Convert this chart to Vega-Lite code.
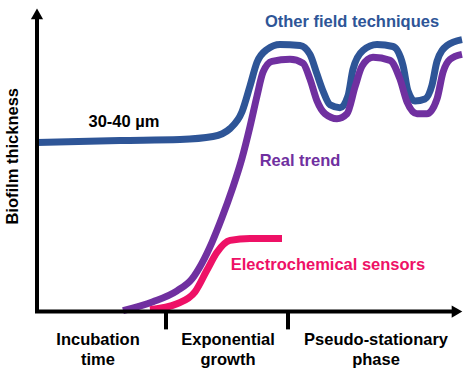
{
  "$schema": "https://vega.github.io/schema/vega-lite/v6.json",
  "width": 474,
  "height": 369,
  "autosize": {"type": "fit", "contains": "padding"},
  "padding": 0,
  "background": "white",
  "config": {"view": {"stroke": null}},
  "datasets": {
    "curves": [
      {"series": "Other field techniques", "t": 37, "v": 225},
      {"series": "Other field techniques", "t": 120, "v": 227},
      {"series": "Other field techniques", "t": 180, "v": 228},
      {"series": "Other field techniques", "t": 213, "v": 231},
      {"series": "Other field techniques", "t": 230, "v": 239},
      {"series": "Other field techniques", "t": 242, "v": 256},
      {"series": "Other field techniques", "t": 250, "v": 282},
      {"series": "Other field techniques", "t": 257, "v": 306},
      {"series": "Other field techniques", "t": 267, "v": 319},
      {"series": "Other field techniques", "t": 280, "v": 324},
      {"series": "Other field techniques", "t": 300, "v": 323},
      {"series": "Other field techniques", "t": 310, "v": 314},
      {"series": "Other field techniques", "t": 317, "v": 294},
      {"series": "Other field techniques", "t": 323, "v": 277},
      {"series": "Other field techniques", "t": 330, "v": 263},
      {"series": "Other field techniques", "t": 340, "v": 260},
      {"series": "Other field techniques", "t": 348, "v": 272},
      {"series": "Other field techniques", "t": 353, "v": 299},
      {"series": "Other field techniques", "t": 363, "v": 318},
      {"series": "Other field techniques", "t": 377, "v": 324},
      {"series": "Other field techniques", "t": 393, "v": 322},
      {"series": "Other field techniques", "t": 403, "v": 303},
      {"series": "Other field techniques", "t": 408, "v": 277},
      {"series": "Other field techniques", "t": 415, "v": 267},
      {"series": "Other field techniques", "t": 425, "v": 269},
      {"series": "Other field techniques", "t": 432, "v": 283},
      {"series": "Other field techniques", "t": 437, "v": 307},
      {"series": "Other field techniques", "t": 447, "v": 323},
      {"series": "Other field techniques", "t": 462, "v": 329},
      {"series": "Real trend", "t": 123, "v": 55},
      {"series": "Real trend", "t": 153, "v": 64},
      {"series": "Real trend", "t": 177, "v": 75},
      {"series": "Real trend", "t": 192, "v": 87},
      {"series": "Real trend", "t": 202, "v": 103},
      {"series": "Real trend", "t": 212, "v": 124},
      {"series": "Real trend", "t": 222, "v": 149},
      {"series": "Real trend", "t": 232, "v": 177},
      {"series": "Real trend", "t": 242, "v": 209},
      {"series": "Real trend", "t": 250, "v": 241},
      {"series": "Real trend", "t": 257, "v": 272},
      {"series": "Real trend", "t": 263, "v": 296},
      {"series": "Real trend", "t": 272, "v": 307},
      {"series": "Real trend", "t": 290, "v": 309},
      {"series": "Real trend", "t": 303, "v": 305},
      {"series": "Real trend", "t": 310, "v": 289},
      {"series": "Real trend", "t": 317, "v": 267},
      {"series": "Real trend", "t": 325, "v": 254},
      {"series": "Real trend", "t": 337, "v": 249},
      {"series": "Real trend", "t": 347, "v": 254},
      {"series": "Real trend", "t": 355, "v": 281},
      {"series": "Real trend", "t": 362, "v": 302},
      {"series": "Real trend", "t": 373, "v": 311},
      {"series": "Real trend", "t": 390, "v": 308},
      {"series": "Real trend", "t": 400, "v": 289},
      {"series": "Real trend", "t": 407, "v": 266},
      {"series": "Real trend", "t": 417, "v": 254},
      {"series": "Real trend", "t": 427, "v": 254},
      {"series": "Real trend", "t": 437, "v": 269},
      {"series": "Real trend", "t": 443, "v": 296},
      {"series": "Real trend", "t": 450, "v": 309},
      {"series": "Real trend", "t": 462, "v": 314},
      {"series": "Electrochemical sensors", "t": 150, "v": 56},
      {"series": "Electrochemical sensors", "t": 177, "v": 62},
      {"series": "Electrochemical sensors", "t": 195, "v": 74},
      {"series": "Electrochemical sensors", "t": 207, "v": 96},
      {"series": "Electrochemical sensors", "t": 217, "v": 114},
      {"series": "Electrochemical sensors", "t": 230, "v": 126},
      {"series": "Electrochemical sensors", "t": 250, "v": 128},
      {"series": "Electrochemical sensors", "t": 282, "v": 128}
    ],
    "axes": [
      {"part": "y axis", "t": 37, "v": 54, "t2": 37, "v2": 355},
      {"part": "x axis", "t": 35, "v": 54, "t2": 455, "v2": 54},
      {"part": "tick 1", "t": 166, "v": 54, "t2": 166, "v2": 36},
      {"part": "tick 2", "t": 288, "v": 54, "t2": 288, "v2": 36}
    ],
    "labels": [
      {"label": "Other field techniques", "series": "Other field techniques", "t": 352, "v": 347},
      {"label": "30-40 µm", "series": "axis", "t": 124, "v": 246},
      {"label": "Real trend", "series": "Real trend", "t": 300, "v": 206},
      {"label": "Electrochemical sensors", "series": "Electrochemical sensors", "t": 328, "v": 101},
      {"label": "Incubation\ntime", "series": "axis", "t": 98, "v": 25},
      {"label": "Exponential\ngrowth", "series": "axis", "t": 228, "v": 25},
      {"label": "Pseudo-stationary\nphase", "series": "axis", "t": 376, "v": 25}
    ]
  },
  "layer": [
    {
      "data": {"name": "curves"},
      "mark": {"type": "line", "interpolate": "monotone", "strokeWidth": 7, "strokeCap": "butt", "strokeJoin": "round"},
      "encoding": {
        "x": {"field": "t", "type": "quantitative", "scale": {"domain": [0, 474], "nice": false, "zero": false}, "axis": null},
        "y": {"field": "v", "type": "quantitative", "scale": {"domain": [0, 369], "nice": false, "zero": false}, "axis": null},
        "color": {"field": "series", "type": "nominal", "legend": null,
          "scale": {"domain": ["Other field techniques", "Real trend", "Electrochemical sensors", "axis"], "range": ["#2E5597", "#7030A0", "#EE1166", "#000000"]}},
        "detail": {"field": "series"}
      }
    },
    {
      "data": {"name": "axes"},
      "mark": {"type": "rule", "strokeWidth": 4, "color": "black"},
      "encoding": {
        "x": {"field": "t", "type": "quantitative"},
        "y": {"field": "v", "type": "quantitative"},
        "x2": {"field": "t2"},
        "y2": {"field": "v2"}
      }
    },
    {
      "data": {"values": [{"t": 37, "v": 355}]},
      "mark": {"type": "point", "shape": "triangle-up", "filled": true, "color": "black", "opacity": 1, "size": 150},
      "encoding": {
        "x": {"field": "t", "type": "quantitative"},
        "y": {"field": "v", "type": "quantitative"}
      }
    },
    {
      "data": {"values": [{"t": 457, "v": 54}]},
      "mark": {"type": "point", "shape": "triangle-right", "filled": true, "color": "black", "opacity": 1, "size": 150},
      "encoding": {
        "x": {"field": "t", "type": "quantitative"},
        "y": {"field": "v", "type": "quantitative"}
      }
    },
    {
      "data": {"name": "labels"},
      "mark": {"type": "text", "font": "Liberation Sans", "fontWeight": "bold", "fontSize": 16.5, "align": "center", "baseline": "middle", "lineBreak": "\n", "lineHeight": 20},
      "encoding": {
        "x": {"field": "t", "type": "quantitative"},
        "y": {"field": "v", "type": "quantitative"},
        "text": {"field": "label"},
        "color": {"field": "series", "type": "nominal", "legend": null}
      }
    },
    {
      "data": {"values": [{"label": "Biofilm thickness", "t": 13, "v": 211}]},
      "mark": {"type": "text", "font": "Liberation Sans", "fontWeight": "bold", "fontSize": 16.5, "align": "center", "baseline": "middle", "angle": 270, "color": "black"},
      "encoding": {
        "x": {"field": "t", "type": "quantitative"},
        "y": {"field": "v", "type": "quantitative"},
        "text": {"field": "label"}
      }
    }
  ]
}
